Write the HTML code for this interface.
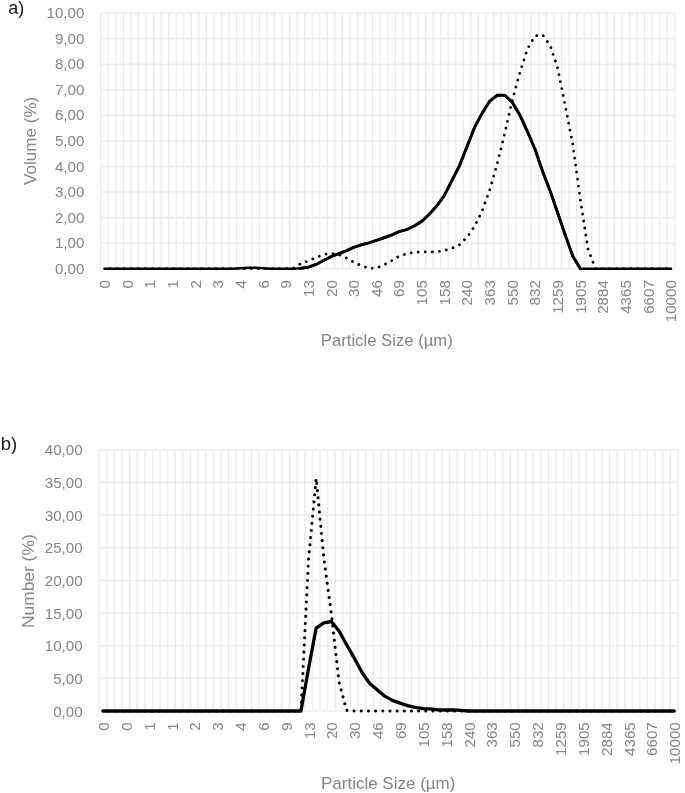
<!DOCTYPE html>
<html><head><meta charset="utf-8"><title>Particle size distribution</title>
<style>
html,body{margin:0;padding:0;background:#fff;}
svg{display:block;font-family:"Liberation Sans",sans-serif;}
.t{font-size:15.1px;fill:#858585;}
.a{fill:#858585;}
.g{fill:#1a1a1a;}
</style></head><body>
<svg width="685" height="793" viewBox="0 0 685 793">
<rect width="685" height="793" fill="#fff"/>
<path d="M100.70 13.00V268.80M108.25 13.00V268.80M115.81 13.00V268.80M123.36 13.00V268.80M130.92 13.00V268.80M138.47 13.00V268.80M146.02 13.00V268.80M153.58 13.00V268.80M161.13 13.00V268.80M168.69 13.00V268.80M176.24 13.00V268.80M183.79 13.00V268.80M191.35 13.00V268.80M198.90 13.00V268.80M206.46 13.00V268.80M214.01 13.00V268.80M221.56 13.00V268.80M229.12 13.00V268.80M236.67 13.00V268.80M244.22 13.00V268.80M251.78 13.00V268.80M259.33 13.00V268.80M266.89 13.00V268.80M274.44 13.00V268.80M281.99 13.00V268.80M289.55 13.00V268.80M297.10 13.00V268.80M304.66 13.00V268.80M312.21 13.00V268.80M319.76 13.00V268.80M327.32 13.00V268.80M334.87 13.00V268.80M342.43 13.00V268.80M349.98 13.00V268.80M357.53 13.00V268.80M365.09 13.00V268.80M372.64 13.00V268.80M380.20 13.00V268.80M387.75 13.00V268.80M395.30 13.00V268.80M402.86 13.00V268.80M410.41 13.00V268.80M417.97 13.00V268.80M425.52 13.00V268.80M433.07 13.00V268.80M440.63 13.00V268.80M448.18 13.00V268.80M455.74 13.00V268.80M463.29 13.00V268.80M470.84 13.00V268.80M478.40 13.00V268.80M485.95 13.00V268.80M493.51 13.00V268.80M501.06 13.00V268.80M508.61 13.00V268.80M516.17 13.00V268.80M523.72 13.00V268.80M531.27 13.00V268.80M538.83 13.00V268.80M546.38 13.00V268.80M553.94 13.00V268.80M561.49 13.00V268.80M569.04 13.00V268.80M576.60 13.00V268.80M584.15 13.00V268.80M591.71 13.00V268.80M599.26 13.00V268.80M606.81 13.00V268.80M614.37 13.00V268.80M621.92 13.00V268.80M629.48 13.00V268.80M637.03 13.00V268.80M644.58 13.00V268.80M652.14 13.00V268.80M659.69 13.00V268.80M667.25 13.00V268.80M674.80 13.00V268.80M100.70 13.00H674.80M100.70 38.58H674.80M100.70 64.16H674.80M100.70 89.74H674.80M100.70 115.32H674.80M100.70 140.90H674.80M100.70 166.48H674.80M100.70 192.06H674.80M100.70 217.64H674.80M100.70 243.22H674.80M100.70 268.80H674.80" stroke="#fbfbfb" stroke-width="2.2" fill="none"/>
<path d="M100.70 13.00V268.80M108.25 13.00V268.80M115.81 13.00V268.80M123.36 13.00V268.80M130.92 13.00V268.80M138.47 13.00V268.80M146.02 13.00V268.80M153.58 13.00V268.80M161.13 13.00V268.80M168.69 13.00V268.80M176.24 13.00V268.80M183.79 13.00V268.80M191.35 13.00V268.80M198.90 13.00V268.80M206.46 13.00V268.80M214.01 13.00V268.80M221.56 13.00V268.80M229.12 13.00V268.80M236.67 13.00V268.80M244.22 13.00V268.80M251.78 13.00V268.80M259.33 13.00V268.80M266.89 13.00V268.80M274.44 13.00V268.80M281.99 13.00V268.80M289.55 13.00V268.80M297.10 13.00V268.80M304.66 13.00V268.80M312.21 13.00V268.80M319.76 13.00V268.80M327.32 13.00V268.80M334.87 13.00V268.80M342.43 13.00V268.80M349.98 13.00V268.80M357.53 13.00V268.80M365.09 13.00V268.80M372.64 13.00V268.80M380.20 13.00V268.80M387.75 13.00V268.80M395.30 13.00V268.80M402.86 13.00V268.80M410.41 13.00V268.80M417.97 13.00V268.80M425.52 13.00V268.80M433.07 13.00V268.80M440.63 13.00V268.80M448.18 13.00V268.80M455.74 13.00V268.80M463.29 13.00V268.80M470.84 13.00V268.80M478.40 13.00V268.80M485.95 13.00V268.80M493.51 13.00V268.80M501.06 13.00V268.80M508.61 13.00V268.80M516.17 13.00V268.80M523.72 13.00V268.80M531.27 13.00V268.80M538.83 13.00V268.80M546.38 13.00V268.80M553.94 13.00V268.80M561.49 13.00V268.80M569.04 13.00V268.80M576.60 13.00V268.80M584.15 13.00V268.80M591.71 13.00V268.80M599.26 13.00V268.80M606.81 13.00V268.80M614.37 13.00V268.80M621.92 13.00V268.80M629.48 13.00V268.80M637.03 13.00V268.80M644.58 13.00V268.80M652.14 13.00V268.80M659.69 13.00V268.80M667.25 13.00V268.80M674.80 13.00V268.80M100.70 13.00H674.80M100.70 38.58H674.80M100.70 64.16H674.80M100.70 89.74H674.80M100.70 115.32H674.80M100.70 140.90H674.80M100.70 166.48H674.80M100.70 192.06H674.80M100.70 217.64H674.80M100.70 243.22H674.80M100.70 268.80H674.80" stroke="#e9e9e9" stroke-width="1.05" fill="none"/>
<polyline points="104.48,268.70 112.03,268.70 119.58,268.70 127.14,268.70 134.69,268.70 142.25,268.70 149.80,268.70 157.35,268.70 164.91,268.70 172.46,268.70 180.02,268.70 187.57,268.70 195.12,268.70 202.68,268.70 210.23,268.70 217.79,268.70 225.34,268.70 232.89,268.70 240.45,268.70 248.00,268.70 255.56,268.70 263.11,268.70 270.66,268.70 278.22,268.70 285.77,268.70 293.33,268.19 300.88,263.58 308.43,260.77 315.99,257.57 323.54,254.50 331.10,253.35 338.65,254.38 346.20,257.96 353.76,262.31 361.31,265.63 368.87,268.39 376.42,268.14 383.97,264.86 391.53,260.77 399.08,256.17 406.63,253.74 414.19,252.33 421.74,251.95 429.30,251.95 436.85,251.82 444.40,250.54 451.96,248.24 459.51,244.65 467.07,237.24 474.62,226.24 482.17,210.89 489.73,189.91 497.28,163.57 504.84,132.87 512.39,100.13 519.94,72.25 527.50,48.71 535.05,35.92 542.61,34.90 550.16,45.39 557.71,68.41 565.27,106.01 572.82,144.64 580.38,199.89 587.93,248.75 595.48,268.70 603.04,268.70 610.59,268.70 618.15,268.70 625.70,268.70 633.25,268.70 640.81,268.70 648.36,268.70 655.92,268.70 663.47,268.70 671.02,268.70" fill="none" stroke="#000" stroke-width="2.8" stroke-linecap="round" stroke-linejoin="round" stroke-dasharray="0.01 7.06" stroke-dashoffset="1.57"/>
<polyline points="104.48,268.70 112.03,268.70 119.58,268.70 127.14,268.70 134.69,268.70 142.25,268.70 149.80,268.70 157.35,268.70 164.91,268.70 172.46,268.70 180.02,268.70 187.57,268.70 195.12,268.70 202.68,268.70 210.23,268.70 217.79,268.70 225.34,268.70 232.89,268.70 240.45,268.32 248.00,267.80 255.56,267.80 263.11,268.32 270.66,268.70 278.22,268.70 285.77,268.70 293.33,268.70 300.88,268.32 308.43,267.17 315.99,264.48 323.54,260.51 331.10,256.68 338.65,253.74 346.20,250.79 353.76,247.47 361.31,244.78 368.87,242.86 376.42,240.31 383.97,237.75 391.53,235.19 399.08,231.61 406.63,229.56 414.19,225.98 421.74,221.38 429.30,214.21 436.85,205.77 444.40,195.29 451.96,180.45 459.51,165.61 467.07,146.43 474.62,127.24 482.17,113.17 489.73,101.15 497.28,95.27 504.84,95.27 512.39,102.43 519.94,115.22 527.50,131.85 535.05,149.24 542.61,171.50 550.16,190.94 557.71,212.94 565.27,235.19 572.82,256.17 580.38,268.70 587.93,268.70 595.48,268.70 603.04,268.70 610.59,268.70 618.15,268.70 625.70,268.70 633.25,268.70 640.81,268.70 648.36,268.70 655.92,268.70 663.47,268.70 671.02,268.70" fill="none" stroke="#000" stroke-width="2.45" stroke-linecap="round" stroke-linejoin="round"/>
<polyline points="300.88,268.32 308.43,267.17 315.99,264.48 323.54,260.51 331.10,256.68 338.65,253.74 346.20,250.79 353.76,247.47 361.31,244.78 368.87,242.86 376.42,240.31 383.97,237.75 391.53,235.19 399.08,231.61 406.63,229.56 414.19,225.98 421.74,221.38 429.30,214.21 436.85,205.77 444.40,195.29 451.96,180.45 459.51,165.61 467.07,146.43 474.62,127.24 482.17,113.17 489.73,101.15 497.28,95.27 504.84,95.27 512.39,102.43 519.94,115.22 527.50,131.85 535.05,149.24 542.61,171.50 550.16,190.94 557.71,212.94 565.27,235.19 572.82,256.17 580.38,268.70" fill="none" stroke="#000" stroke-width="2.95" stroke-linecap="round" stroke-linejoin="round"/>
<text x="84.3" y="273.8" text-anchor="end" class="t">0,00</text>
<text x="84.3" y="248.2" text-anchor="end" class="t">1,00</text>
<text x="84.3" y="222.6" text-anchor="end" class="t">2,00</text>
<text x="84.3" y="197.1" text-anchor="end" class="t">3,00</text>
<text x="84.3" y="171.5" text-anchor="end" class="t">4,00</text>
<text x="84.3" y="145.9" text-anchor="end" class="t">5,00</text>
<text x="84.3" y="120.3" text-anchor="end" class="t">6,00</text>
<text x="84.3" y="94.7" text-anchor="end" class="t">7,00</text>
<text x="84.3" y="69.2" text-anchor="end" class="t">8,00</text>
<text x="84.3" y="43.6" text-anchor="end" class="t">9,00</text>
<text x="84.3" y="18.0" text-anchor="end" class="t">10,00</text>
<text transform="translate(109.88 280.2) rotate(-90)" text-anchor="end" class="t">0</text>
<text transform="translate(132.54 280.2) rotate(-90)" text-anchor="end" class="t">0</text>
<text transform="translate(155.20 280.2) rotate(-90)" text-anchor="end" class="t">1</text>
<text transform="translate(177.86 280.2) rotate(-90)" text-anchor="end" class="t">1</text>
<text transform="translate(200.52 280.2) rotate(-90)" text-anchor="end" class="t">2</text>
<text transform="translate(223.19 280.2) rotate(-90)" text-anchor="end" class="t">3</text>
<text transform="translate(245.85 280.2) rotate(-90)" text-anchor="end" class="t">4</text>
<text transform="translate(268.51 280.2) rotate(-90)" text-anchor="end" class="t">6</text>
<text transform="translate(291.17 280.2) rotate(-90)" text-anchor="end" class="t">9</text>
<text transform="translate(313.83 280.2) rotate(-90)" text-anchor="end" class="t">13</text>
<text transform="translate(336.50 280.2) rotate(-90)" text-anchor="end" class="t">20</text>
<text transform="translate(359.16 280.2) rotate(-90)" text-anchor="end" class="t">30</text>
<text transform="translate(381.82 280.2) rotate(-90)" text-anchor="end" class="t">46</text>
<text transform="translate(404.48 280.2) rotate(-90)" text-anchor="end" class="t">69</text>
<text transform="translate(427.14 280.2) rotate(-90)" text-anchor="end" class="t">105</text>
<text transform="translate(449.80 280.2) rotate(-90)" text-anchor="end" class="t">158</text>
<text transform="translate(472.47 280.2) rotate(-90)" text-anchor="end" class="t">240</text>
<text transform="translate(495.13 280.2) rotate(-90)" text-anchor="end" class="t">363</text>
<text transform="translate(517.79 280.2) rotate(-90)" text-anchor="end" class="t">550</text>
<text transform="translate(540.45 280.2) rotate(-90)" text-anchor="end" class="t">832</text>
<text transform="translate(563.11 280.2) rotate(-90)" text-anchor="end" class="t">1259</text>
<text transform="translate(585.78 280.2) rotate(-90)" text-anchor="end" class="t">1905</text>
<text transform="translate(608.44 280.2) rotate(-90)" text-anchor="end" class="t">2884</text>
<text transform="translate(631.10 280.2) rotate(-90)" text-anchor="end" class="t">4365</text>
<text transform="translate(653.76 280.2) rotate(-90)" text-anchor="end" class="t">6607</text>
<text transform="translate(676.42 280.2) rotate(-90)" text-anchor="end" class="t">10000</text>
<text x="386.8" y="346.0" text-anchor="middle" class="a" font-size="16.7">Particle Size (µm)</text>
<text transform="translate(35.5 140.9) rotate(-90)" text-anchor="middle" class="a" font-size="17.1">Volume (%)</text>
<text x="8.2" y="13.6" class="g" font-size="18">a)</text>
<path d="M99.10 449.70V711.00M106.72 449.70V711.00M114.33 449.70V711.00M121.95 449.70V711.00M129.57 449.70V711.00M137.19 449.70V711.00M144.80 449.70V711.00M152.42 449.70V711.00M160.04 449.70V711.00M167.65 449.70V711.00M175.27 449.70V711.00M182.89 449.70V711.00M190.51 449.70V711.00M198.12 449.70V711.00M205.74 449.70V711.00M213.36 449.70V711.00M220.97 449.70V711.00M228.59 449.70V711.00M236.21 449.70V711.00M243.82 449.70V711.00M251.44 449.70V711.00M259.06 449.70V711.00M266.68 449.70V711.00M274.29 449.70V711.00M281.91 449.70V711.00M289.53 449.70V711.00M297.14 449.70V711.00M304.76 449.70V711.00M312.38 449.70V711.00M320.00 449.70V711.00M327.61 449.70V711.00M335.23 449.70V711.00M342.85 449.70V711.00M350.46 449.70V711.00M358.08 449.70V711.00M365.70 449.70V711.00M373.32 449.70V711.00M380.93 449.70V711.00M388.55 449.70V711.00M396.17 449.70V711.00M403.78 449.70V711.00M411.40 449.70V711.00M419.02 449.70V711.00M426.64 449.70V711.00M434.25 449.70V711.00M441.87 449.70V711.00M449.49 449.70V711.00M457.10 449.70V711.00M464.72 449.70V711.00M472.34 449.70V711.00M479.96 449.70V711.00M487.57 449.70V711.00M495.19 449.70V711.00M502.81 449.70V711.00M510.42 449.70V711.00M518.04 449.70V711.00M525.66 449.70V711.00M533.27 449.70V711.00M540.89 449.70V711.00M548.51 449.70V711.00M556.13 449.70V711.00M563.74 449.70V711.00M571.36 449.70V711.00M578.98 449.70V711.00M586.59 449.70V711.00M594.21 449.70V711.00M601.83 449.70V711.00M609.45 449.70V711.00M617.06 449.70V711.00M624.68 449.70V711.00M632.30 449.70V711.00M639.91 449.70V711.00M647.53 449.70V711.00M655.15 449.70V711.00M662.77 449.70V711.00M670.38 449.70V711.00M678.00 449.70V711.00M99.10 449.70H678.00M99.10 482.36H678.00M99.10 515.02H678.00M99.10 547.69H678.00M99.10 580.35H678.00M99.10 613.01H678.00M99.10 645.67H678.00M99.10 678.34H678.00M99.10 711.00H678.00" stroke="#fbfbfb" stroke-width="2.2" fill="none"/>
<path d="M99.10 449.70V711.00M106.72 449.70V711.00M114.33 449.70V711.00M121.95 449.70V711.00M129.57 449.70V711.00M137.19 449.70V711.00M144.80 449.70V711.00M152.42 449.70V711.00M160.04 449.70V711.00M167.65 449.70V711.00M175.27 449.70V711.00M182.89 449.70V711.00M190.51 449.70V711.00M198.12 449.70V711.00M205.74 449.70V711.00M213.36 449.70V711.00M220.97 449.70V711.00M228.59 449.70V711.00M236.21 449.70V711.00M243.82 449.70V711.00M251.44 449.70V711.00M259.06 449.70V711.00M266.68 449.70V711.00M274.29 449.70V711.00M281.91 449.70V711.00M289.53 449.70V711.00M297.14 449.70V711.00M304.76 449.70V711.00M312.38 449.70V711.00M320.00 449.70V711.00M327.61 449.70V711.00M335.23 449.70V711.00M342.85 449.70V711.00M350.46 449.70V711.00M358.08 449.70V711.00M365.70 449.70V711.00M373.32 449.70V711.00M380.93 449.70V711.00M388.55 449.70V711.00M396.17 449.70V711.00M403.78 449.70V711.00M411.40 449.70V711.00M419.02 449.70V711.00M426.64 449.70V711.00M434.25 449.70V711.00M441.87 449.70V711.00M449.49 449.70V711.00M457.10 449.70V711.00M464.72 449.70V711.00M472.34 449.70V711.00M479.96 449.70V711.00M487.57 449.70V711.00M495.19 449.70V711.00M502.81 449.70V711.00M510.42 449.70V711.00M518.04 449.70V711.00M525.66 449.70V711.00M533.27 449.70V711.00M540.89 449.70V711.00M548.51 449.70V711.00M556.13 449.70V711.00M563.74 449.70V711.00M571.36 449.70V711.00M578.98 449.70V711.00M586.59 449.70V711.00M594.21 449.70V711.00M601.83 449.70V711.00M609.45 449.70V711.00M617.06 449.70V711.00M624.68 449.70V711.00M632.30 449.70V711.00M639.91 449.70V711.00M647.53 449.70V711.00M655.15 449.70V711.00M662.77 449.70V711.00M670.38 449.70V711.00M678.00 449.70V711.00M99.10 449.70H678.00M99.10 482.36H678.00M99.10 515.02H678.00M99.10 547.69H678.00M99.10 580.35H678.00M99.10 613.01H678.00M99.10 645.67H678.00M99.10 678.34H678.00M99.10 711.00H678.00" stroke="#e9e9e9" stroke-width="1.05" fill="none"/>
<polyline points="102.91,711.00 110.53,711.00 118.14,711.00 125.76,711.00 133.38,711.00 140.99,711.00 148.61,711.00 156.23,711.00 163.85,711.00 171.46,711.00 179.08,711.00 186.70,711.00 194.31,711.00 201.93,711.00 209.55,711.00 217.17,711.00 224.78,711.00 232.40,711.00 240.02,711.00 247.63,711.00 255.25,711.00 262.87,711.00 270.48,711.00 278.10,711.00 285.72,711.00 293.34,711.00 300.95,711.00 308.57,559.45 316.19,478.44 323.80,558.14 331.42,614.32 339.04,682.26 346.66,710.35 354.27,711.00 361.89,711.00 369.51,711.00 377.12,711.00 384.74,711.00 392.36,711.00 399.98,711.00 407.59,711.00 415.21,711.00 422.83,711.00 430.44,711.00 438.06,711.00 445.68,711.00 453.30,711.00 460.91,711.00 468.53,711.00 476.15,711.00 483.76,711.00 491.38,711.00 499.00,711.00 506.62,711.00 514.23,711.00 521.85,711.00 529.47,711.00 537.08,711.00 544.70,711.00 552.32,711.00 559.93,711.00 567.55,711.00 575.17,711.00 582.79,711.00 590.40,711.00 598.02,711.00 605.64,711.00 613.25,711.00 620.87,711.00 628.49,711.00 636.11,711.00 643.72,711.00 651.34,711.00 658.96,711.00 666.57,711.00 674.19,711.00" fill="none" stroke="#000" stroke-width="3.1" stroke-linecap="round" stroke-linejoin="round" stroke-dasharray="0.01 7.16" stroke-dashoffset="1.14"/>
<polyline points="102.91,711.00 110.53,711.00 118.14,711.00 125.76,711.00 133.38,711.00 140.99,711.00 148.61,711.00 156.23,711.00 163.85,711.00 171.46,711.00 179.08,711.00 186.70,711.00 194.31,711.00 201.93,711.00 209.55,711.00 217.17,711.00 224.78,711.00 232.40,711.00 240.02,711.00 247.63,711.00 255.25,711.00 262.87,711.00 270.48,711.00 278.10,711.00 285.72,711.00 293.34,711.00 300.95,711.00 308.57,668.21 316.19,628.04 323.80,622.81 331.42,621.50 339.04,630.98 346.66,644.70 354.27,658.09 361.89,672.20 369.51,683.24 377.12,689.70 384.74,696.17 392.36,700.35 399.98,703.16 407.59,705.58 415.21,707.41 422.83,708.58 430.44,708.78 438.06,709.82 445.68,710.02 453.30,709.82 460.91,710.41 468.53,711.00 476.15,711.00 483.76,711.00 491.38,711.00 499.00,711.00 506.62,711.00 514.23,711.00 521.85,711.00 529.47,711.00 537.08,711.00 544.70,711.00 552.32,711.00 559.93,711.00 567.55,711.00 575.17,711.00 582.79,711.00 590.40,711.00 598.02,711.00 605.64,711.00 613.25,711.00 620.87,711.00 628.49,711.00 636.11,711.00 643.72,711.00 651.34,711.00 658.96,711.00 666.57,711.00 674.19,711.00" fill="none" stroke="#000" stroke-width="3.3" stroke-linecap="round" stroke-linejoin="round"/>
<text x="82.6" y="716.5" text-anchor="end" class="t">0,00</text>
<text x="82.6" y="683.8" text-anchor="end" class="t">5,00</text>
<text x="82.6" y="651.1" text-anchor="end" class="t">10,00</text>
<text x="82.6" y="618.5" text-anchor="end" class="t">15,00</text>
<text x="82.6" y="585.8" text-anchor="end" class="t">20,00</text>
<text x="82.6" y="553.1" text-anchor="end" class="t">25,00</text>
<text x="82.6" y="520.5" text-anchor="end" class="t">30,00</text>
<text x="82.6" y="487.8" text-anchor="end" class="t">35,00</text>
<text x="82.6" y="455.1" text-anchor="end" class="t">40,00</text>
<text transform="translate(108.96 722.3) rotate(-90)" text-anchor="end" class="t">0</text>
<text transform="translate(131.81 722.3) rotate(-90)" text-anchor="end" class="t">0</text>
<text transform="translate(154.66 722.3) rotate(-90)" text-anchor="end" class="t">1</text>
<text transform="translate(177.51 722.3) rotate(-90)" text-anchor="end" class="t">1</text>
<text transform="translate(200.36 722.3) rotate(-90)" text-anchor="end" class="t">2</text>
<text transform="translate(223.22 722.3) rotate(-90)" text-anchor="end" class="t">3</text>
<text transform="translate(246.07 722.3) rotate(-90)" text-anchor="end" class="t">4</text>
<text transform="translate(268.92 722.3) rotate(-90)" text-anchor="end" class="t">6</text>
<text transform="translate(291.77 722.3) rotate(-90)" text-anchor="end" class="t">9</text>
<text transform="translate(314.62 722.3) rotate(-90)" text-anchor="end" class="t">13</text>
<text transform="translate(337.47 722.3) rotate(-90)" text-anchor="end" class="t">20</text>
<text transform="translate(360.32 722.3) rotate(-90)" text-anchor="end" class="t">30</text>
<text transform="translate(383.17 722.3) rotate(-90)" text-anchor="end" class="t">46</text>
<text transform="translate(406.03 722.3) rotate(-90)" text-anchor="end" class="t">69</text>
<text transform="translate(428.88 722.3) rotate(-90)" text-anchor="end" class="t">105</text>
<text transform="translate(451.73 722.3) rotate(-90)" text-anchor="end" class="t">158</text>
<text transform="translate(474.58 722.3) rotate(-90)" text-anchor="end" class="t">240</text>
<text transform="translate(497.43 722.3) rotate(-90)" text-anchor="end" class="t">363</text>
<text transform="translate(520.28 722.3) rotate(-90)" text-anchor="end" class="t">550</text>
<text transform="translate(543.13 722.3) rotate(-90)" text-anchor="end" class="t">832</text>
<text transform="translate(565.98 722.3) rotate(-90)" text-anchor="end" class="t">1259</text>
<text transform="translate(588.84 722.3) rotate(-90)" text-anchor="end" class="t">1905</text>
<text transform="translate(611.69 722.3) rotate(-90)" text-anchor="end" class="t">2884</text>
<text transform="translate(634.54 722.3) rotate(-90)" text-anchor="end" class="t">4365</text>
<text transform="translate(657.39 722.3) rotate(-90)" text-anchor="end" class="t">6607</text>
<text transform="translate(680.24 722.3) rotate(-90)" text-anchor="end" class="t">10000</text>
<text x="388.2" y="788.5" text-anchor="middle" class="a" font-size="17.0">Particle Size (µm)</text>
<text transform="translate(34.4 581.2) rotate(-90)" text-anchor="middle" class="a" font-size="17.4">Number (%)</text>
<text x="0.7" y="450" class="g" font-size="18.5">b)</text>
</svg>
</body></html>
